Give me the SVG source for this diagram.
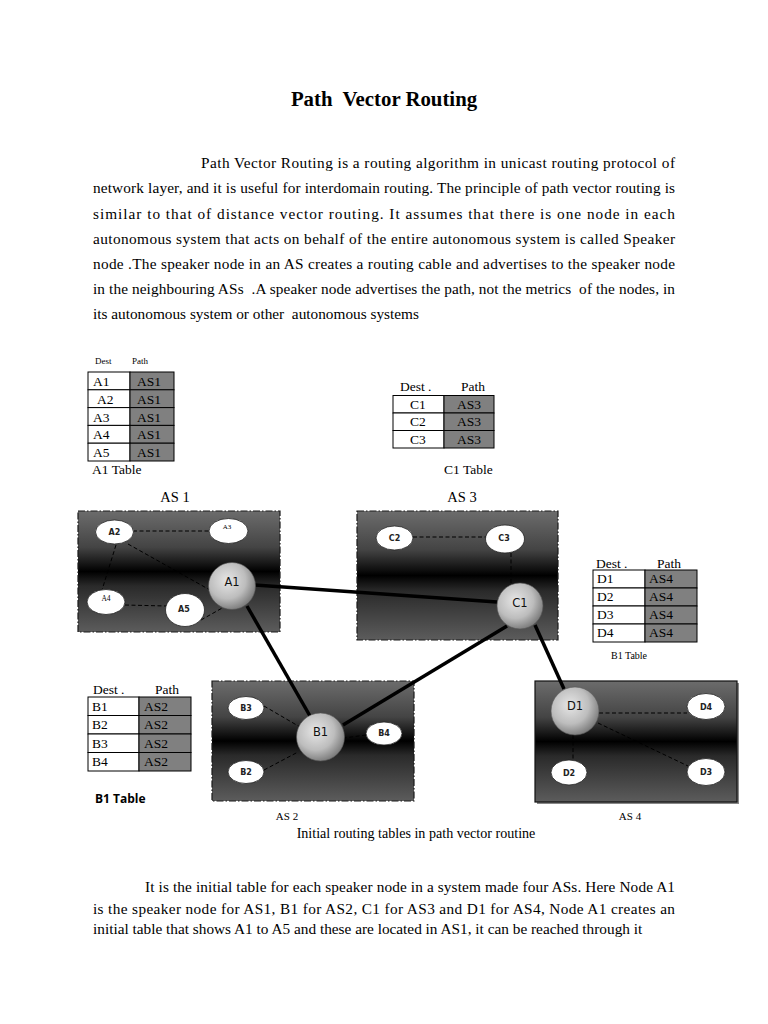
<svg xmlns="http://www.w3.org/2000/svg" width="768" height="1024" viewBox="0 0 768 1024">
<defs>
<linearGradient id="boxg" x1="0" y1="0" x2="0" y2="1">
<stop offset="0" stop-color="#6c6c6c"/>
<stop offset="0.3" stop-color="#444"/>
<stop offset="0.5" stop-color="#000"/>
<stop offset="0.62" stop-color="#2a2a2a"/>
<stop offset="1" stop-color="#5c5c5c"/>
</linearGradient>
<radialGradient id="sph" cx="0.4" cy="0.38" r="0.65">
<stop offset="0" stop-color="#e6e6e6"/>
<stop offset="0.6" stop-color="#bdbdbd"/>
<stop offset="1" stop-color="#7a7a7a"/>
</radialGradient>
<style>
.t{font-family:"Liberation Serif",serif;fill:#000}
.p{font-family:"Liberation Serif",serif;font-size:15.3px;fill:#000}
.as{fill:url(#boxg);stroke:#1a1a1a;stroke-width:1.2;stroke-dasharray:7 2 1.5 2}
.sm{fill:#fff;stroke:#222;stroke-width:0.8}
.sp{fill:url(#sph);stroke:#555;stroke-width:0.6}
.dl{stroke:#000;stroke-width:1;stroke-dasharray:4 2.5;fill:none}
.thick{stroke:#000;stroke-width:3.5;fill:none}
.nl{font-family:"DejaVu Sans",sans-serif;font-size:8px;font-weight:bold;fill:#222;text-anchor:middle}
.bl{font-family:"DejaVu Sans",sans-serif;font-size:11.5px;fill:#111;text-anchor:middle}
.cw{fill:#fff;stroke:#000;stroke-width:1}
.cg{fill:#808080;stroke:#000;stroke-width:1}
.ct{font-family:"Liberation Serif",serif;font-size:13.5px;fill:#000}
</style>
</defs>
<rect width="768" height="1024" fill="#fff"/>

<text class="t" x="384" y="106" font-size="20.8" font-weight="bold" text-anchor="middle" xml:space="preserve">Path  Vector Routing</text>

<g id="para1">
<text class="p" x="201" y="168" textLength="474" lengthAdjust="spacing">Path Vector Routing is a routing algorithm in unicast routing protocol of</text>
<text class="p" x="93" y="193" textLength="582" lengthAdjust="spacing">network layer, and it is useful for interdomain routing. The principle of path vector routing is</text>
<text class="p" x="93" y="219" textLength="582" lengthAdjust="spacing">similar to that of distance vector routing. It assumes that there is one node in each</text>
<text class="p" x="93" y="244" textLength="582" lengthAdjust="spacing">autonomous system that acts on behalf of the entire autonomous system is called Speaker</text>
<text class="p" x="93" y="269" textLength="582" lengthAdjust="spacing">node .The speaker node in an AS creates a routing cable and advertises to the speaker node</text>
<text class="p" x="93" y="294" textLength="582" lengthAdjust="spacing" xml:space="preserve">in the neighbouring ASs  .A speaker node advertises the path, not the metrics  of the nodes, in</text>
<text class="p" x="93" y="319" xml:space="preserve">its autonomous system or other  autonomous systems</text>
</g>

<g id="tableA">
<text class="t" x="95" y="364" font-size="9">Dest</text>
<text class="t" x="132" y="364" font-size="9">Path</text>
<rect class="cw" x="88" y="372" width="42" height="17.8"/><rect class="cg" x="130" y="372" width="44" height="17.8"/>
<rect class="cw" x="88" y="389.8" width="42" height="17.8"/><rect class="cg" x="130" y="389.8" width="44" height="17.8"/>
<rect class="cw" x="88" y="407.6" width="42" height="17.8"/><rect class="cg" x="130" y="407.6" width="44" height="17.8"/>
<rect class="cw" x="88" y="425.4" width="42" height="17.8"/><rect class="cg" x="130" y="425.4" width="44" height="17.8"/>
<rect class="cw" x="88" y="443.2" width="42" height="17.8"/><rect class="cg" x="130" y="443.2" width="44" height="17.8"/>
<text class="ct" x="93" y="386">A1</text><text class="ct" x="137" y="386">AS1</text>
<text class="ct" x="97" y="404">A2</text><text class="ct" x="137" y="404">AS1</text>
<text class="ct" x="93" y="422">A3</text><text class="ct" x="137" y="422">AS1</text>
<text class="ct" x="93" y="439">A4</text><text class="ct" x="137" y="439">AS1</text>
<text class="ct" x="93" y="457">A5</text><text class="ct" x="137" y="457">AS1</text>
<text class="ct" x="92" y="474">A1 Table</text>
</g>

<g id="tableC">
<text class="ct" x="400" y="391">Dest .</text>
<text class="ct" x="461" y="391">Path</text>
<rect class="cw" x="393" y="395.5" width="51" height="17.5"/><rect class="cg" x="444" y="395.5" width="50" height="17.5"/>
<rect class="cw" x="393" y="413" width="51" height="17.5"/><rect class="cg" x="444" y="413" width="50" height="17.5"/>
<rect class="cw" x="393" y="430.5" width="51" height="17.5"/><rect class="cg" x="444" y="430.5" width="50" height="17.5"/>
<text class="ct" x="418" y="409" text-anchor="middle">C1</text><text class="ct" x="469" y="409" text-anchor="middle">AS3</text>
<text class="ct" x="418" y="426" text-anchor="middle">C2</text><text class="ct" x="469" y="426" text-anchor="middle">AS3</text>
<text class="ct" x="418" y="444" text-anchor="middle">C3</text><text class="ct" x="469" y="444" text-anchor="middle">AS3</text>
<text class="ct" x="444" y="474">C1 Table</text>
</g>

<g id="tableD">
<text class="ct" x="596" y="568">Dest .</text>
<text class="ct" x="657" y="568">Path</text>
<rect class="cw" x="593" y="570" width="52" height="18"/><rect class="cg" x="645" y="570" width="52" height="18"/>
<rect class="cw" x="593" y="588" width="52" height="18"/><rect class="cg" x="645" y="588" width="52" height="18"/>
<rect class="cw" x="593" y="606" width="52" height="18"/><rect class="cg" x="645" y="606" width="52" height="18"/>
<rect class="cw" x="593" y="624" width="52" height="18"/><rect class="cg" x="645" y="624" width="52" height="18"/>
<text class="ct" x="597" y="583">D1</text><text class="ct" x="649" y="583">AS4</text>
<text class="ct" x="597" y="601">D2</text><text class="ct" x="649" y="601">AS4</text>
<text class="ct" x="597" y="619">D3</text><text class="ct" x="649" y="619">AS4</text>
<text class="ct" x="597" y="637">D4</text><text class="ct" x="649" y="637">AS4</text>
<text class="t" x="611" y="659" font-size="10">B1 Table</text>
</g>

<g id="tableB">
<text class="ct" x="93" y="694">Dest .</text>
<text class="ct" x="155" y="694">Path</text>
<rect class="cw" x="88" y="697" width="51" height="18.5"/><rect class="cg" x="139" y="697" width="52" height="18.5"/>
<rect class="cw" x="88" y="715.5" width="51" height="18.5"/><rect class="cg" x="139" y="715.5" width="52" height="18.5"/>
<rect class="cw" x="88" y="734" width="51" height="18.5"/><rect class="cg" x="139" y="734" width="52" height="18.5"/>
<rect class="cw" x="88" y="752.5" width="51" height="18.5"/><rect class="cg" x="139" y="752.5" width="52" height="18.5"/>
<text class="ct" x="92" y="711">B1</text><text class="ct" x="144" y="711">AS2</text>
<text class="ct" x="92" y="729">B2</text><text class="ct" x="144" y="729">AS2</text>
<text class="ct" x="92" y="748">B3</text><text class="ct" x="144" y="748">AS2</text>
<text class="ct" x="92" y="766">B4</text><text class="ct" x="144" y="766">AS2</text>
<text x="95" y="803" font-family="'Open Sans','DejaVu Sans',sans-serif" font-size="12" font-weight="bold" fill="#000">B1 Table</text>
</g>

<!-- AS boxes -->
<g id="AS1">
<rect class="as" x="78" y="511" width="202" height="121"/>
<text class="t" x="175" y="502" font-size="14.5" text-anchor="middle">AS 1</text>
</g>
<g id="AS3">
<rect class="as" x="357" y="511" width="201" height="129"/>
<text class="t" x="462" y="502" font-size="14.5" text-anchor="middle">AS 3</text>
</g>
<g id="AS2">
<rect class="as" x="212" y="681" width="202" height="120"/>
<text class="t" x="287" y="820" font-size="11" text-anchor="middle">AS 2</text>
</g>
<g id="AS4">
<rect x="537" y="683" width="202" height="121" fill="#888"/>
<rect x="535" y="681" width="202" height="121" fill="url(#boxg)" stroke="#111" stroke-width="1.2"/>
<text class="t" x="630" y="820" font-size="11" text-anchor="middle">AS 4</text>
</g>

<!-- connectors -->
<g id="connectors">
<path class="dl" d="M133 531 H209"/>
<path class="dl" d="M128 544 L210 590"/>
<path class="dl" d="M116 545 L102 590"/>
<path class="dl" d="M125 605 L166 606"/>
<path class="dl" d="M201 620 L224 607"/>
<path class="dl" d="M413 537 H486"/>
<path class="dl" d="M511 553 V585"/>
<path class="dl" d="M264 706 L300 727"/>
<path class="dl" d="M264 770 L298 752"/>
<path class="dl" d="M366 735 L344 738"/>
<path class="dl" d="M599 713 H687"/>
<path class="dl" d="M598 723 L688 766"/>
<path class="dl" d="M573 735 V760"/>
<path class="thick" d="M255 585 L497 602"/>
<path class="thick" d="M247 606 L310 716"/>
<path class="thick" d="M343 725 L507 626"/>
<path class="thick" d="M535 625 L564 689"/>
</g>

<!-- nodes -->
<g id="A2"><ellipse class="sm" cx="114.5" cy="532" rx="19" ry="12"/><text class="nl" x="114.5" y="535">A2</text></g>
<g id="A3"><ellipse class="sm" cx="228.5" cy="531" rx="19.5" ry="12.5"/><text class="t" x="227" y="529" font-size="7" text-anchor="middle">A3</text></g>
<g id="A4"><ellipse class="sm" cx="106" cy="602" rx="19" ry="12.5"/><text class="t" x="106" y="601" font-size="7.5" text-anchor="middle">A4</text></g>
<g id="A5"><ellipse class="sm" cx="185" cy="610" rx="19.5" ry="16.5"/><text class="nl" x="184" y="612" font-weight="normal" font-size="9">A5</text></g>
<g id="A1"><circle class="sp" cx="232" cy="586" r="23.5"/><text class="bl" x="232" y="586">A1</text></g>

<g id="C2"><ellipse class="sm" cx="394.5" cy="538" rx="18.5" ry="12"/><text class="nl" x="394.5" y="541" font-size="7">C2</text></g>
<g id="C3"><ellipse class="sm" cx="505" cy="539" rx="19.5" ry="14"/><text class="nl" x="504" y="541" font-size="6.5">C3</text></g>
<g id="C1"><circle class="sp" cx="520" cy="606" r="23"/><text class="bl" x="520" y="607">C1</text></g>

<g id="B3"><ellipse class="sm" cx="246" cy="708" rx="18" ry="11.5"/><text class="nl" x="246" y="711" font-size="7">B3</text></g>
<g id="B4"><ellipse class="sm" cx="384" cy="733.5" rx="18" ry="11.5"/><text class="nl" x="384" y="736" font-size="7" font-weight="normal">B4</text></g>
<g id="B2"><ellipse class="sm" cx="246" cy="772" rx="18" ry="11.5"/><text class="nl" x="246" y="775" font-size="7">B2</text></g>
<g id="B1"><circle class="sp" cx="320.5" cy="737" r="24"/><text class="bl" x="320.5" y="736">B1</text></g>

<g id="D4"><ellipse class="sm" cx="706" cy="706.5" rx="19" ry="13"/><text class="nl" x="706" y="709.5" font-size="7">D4</text></g>
<g id="D2"><ellipse class="sm" cx="569" cy="772.5" rx="18" ry="12.5"/><text class="nl" x="569" y="775.5" font-size="7">D2</text></g>
<g id="D3"><ellipse class="sm" cx="706" cy="772" rx="19" ry="13.5"/><text class="nl" x="706" y="775" font-size="7">D3</text></g>
<g id="D1"><circle class="sp" cx="575" cy="711" r="24"/><text class="bl" x="575" y="710">D1</text></g>

<text class="t" x="416" y="838" font-size="14.1" text-anchor="middle">Initial routing tables in path vector routine</text>

<g id="para2">
<text class="p" x="145" y="892" textLength="530" lengthAdjust="spacing">It is the initial table for each speaker node in a system made four ASs. Here Node A1</text>
<text class="p" x="93" y="914" textLength="582" lengthAdjust="spacing">is the speaker node for AS1, B1 for AS2, C1 for AS3 and D1 for AS4, Node A1 creates an</text>
<text class="p" x="93" y="934">initial table that shows A1 to A5 and these are located in AS1, it can be reached through it</text>
</g>
</svg>
